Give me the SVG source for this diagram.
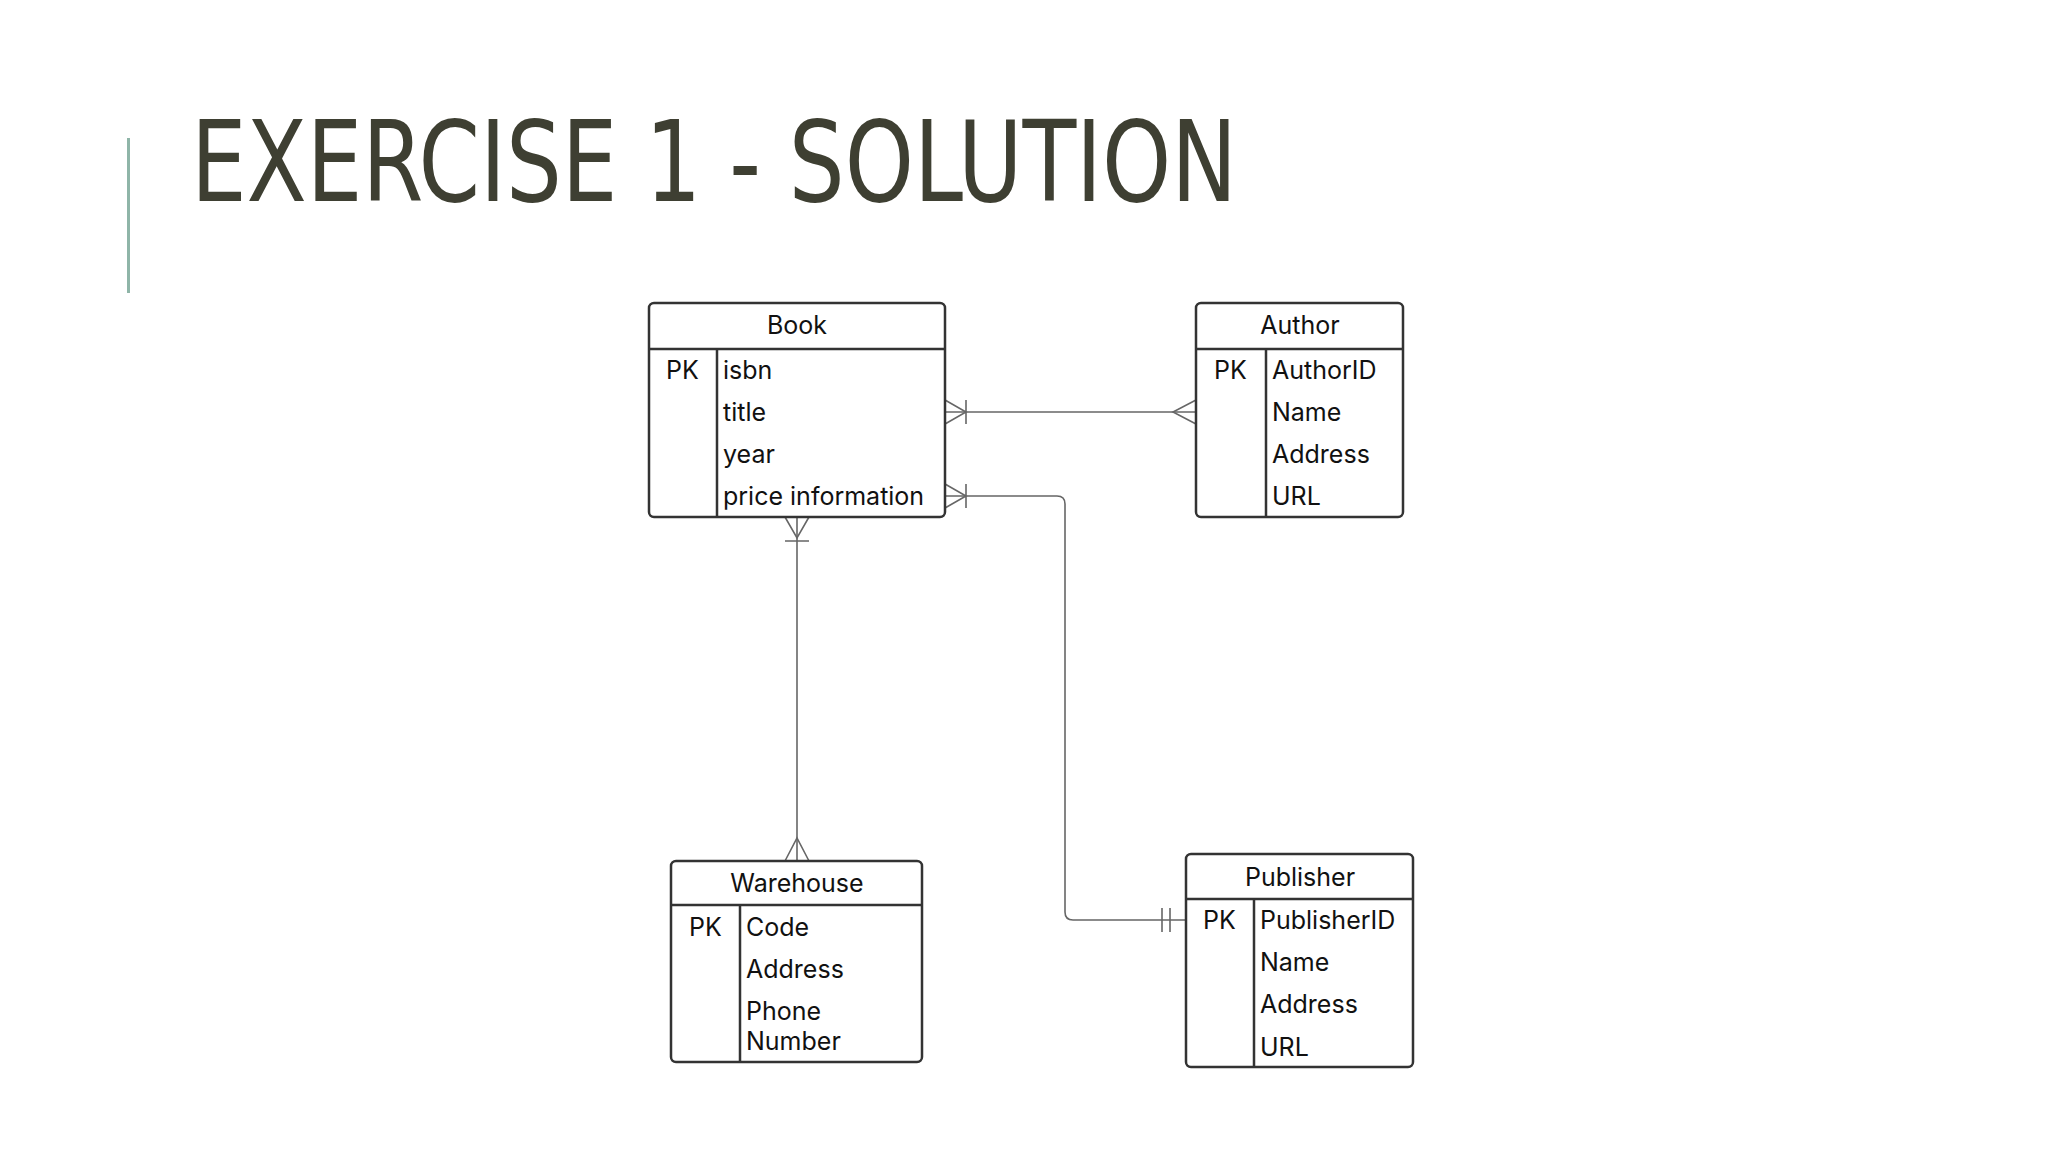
<svg xmlns="http://www.w3.org/2000/svg" width="2048" height="1152" viewBox="0 0 2048 1152">
<style>
.box{fill:#fff;stroke:#333;stroke-width:2.5}
.ln{stroke:#333;stroke-width:2.5;fill:none}
.t{font-family:Inter,"Noto Sans",sans-serif;font-size:25px;fill:#111}
.h{text-anchor:middle}
.c{stroke:#666;stroke-width:1.6;fill:none}
</style>
<rect width="2048" height="1152" fill="#fff"/>
<rect x="127" y="138" width="3" height="155" fill="#8fb5a8"/>
<text x="191" y="201" font-family="'Liberation Sans Narrow','DejaVu Sans Condensed',sans-serif" font-size="112" fill="#3e3f32" textLength="1046" lengthAdjust="spacingAndGlyphs">EXERCISE 1 - SOLUTION</text>
<g id="connectors">
<path class="c" d="M945 412H1196"/>
<path class="c" d="M945 400L966 412L945 424M966 400V424"/>
<path class="c" d="M1196 400L1173 412L1196 424"/>
<path class="c" d="M945 496H1057Q1065 496 1065 504V912Q1065 920 1073 920H1186"/>
<path class="c" d="M945 484L966 496L945 508M966 484V508"/>
<path class="c" d="M1162 908V932M1170 908V932"/>
<path class="c" d="M797 517V861"/>
<path class="c" d="M785 517L797 538L809 517M785 541H809"/>
<path class="c" d="M785 861L797 838L809 861"/>
</g>
<g id="book">
<rect class="box" x="649" y="303" width="296" height="214" rx="5"/>
<path class="ln" d="M649 349H945M717 349V517"/>
<text class="t h" x="797" y="334">Book</text>
<text class="t" x="666" y="379">PK</text>
<text class="t" x="723" y="379">isbn</text>
<text class="t" x="723" y="421">title</text>
<text class="t" x="723" y="463">year</text>
<text class="t" x="723" y="505">price information</text>
</g>
<g id="author">
<rect class="box" x="1196" y="303" width="207" height="214" rx="5"/>
<path class="ln" d="M1196 349H1403M1266 349V517"/>
<text class="t h" x="1300" y="334">Author</text>
<text class="t" x="1214" y="379">PK</text>
<text class="t" x="1272" y="379">AuthorID</text>
<text class="t" x="1272" y="421">Name</text>
<text class="t" x="1272" y="463">Address</text>
<text class="t" x="1272" y="505">URL</text>
</g>
<g id="warehouse">
<rect class="box" x="671" y="861" width="251" height="201" rx="5"/>
<path class="ln" d="M671 905H922M740 905V1062"/>
<text class="t h" x="797" y="892">Warehouse</text>
<text class="t" x="689" y="936">PK</text>
<text class="t" x="746" y="936">Code</text>
<text class="t" x="746" y="978">Address</text>
<text class="t" x="746" y="1020">Phone</text>
<text class="t" x="746" y="1050">Number</text>
</g>
<g id="publisher">
<rect class="box" x="1186" y="854" width="227" height="213" rx="5"/>
<path class="ln" d="M1186 899H1413M1254 899V1067"/>
<text class="t h" x="1300" y="886">Publisher</text>
<text class="t" x="1203" y="929">PK</text>
<text class="t" x="1260" y="929">PublisherID</text>
<text class="t" x="1260" y="971">Name</text>
<text class="t" x="1260" y="1013">Address</text>
<text class="t" x="1260" y="1056">URL</text>
</g>
</svg>
